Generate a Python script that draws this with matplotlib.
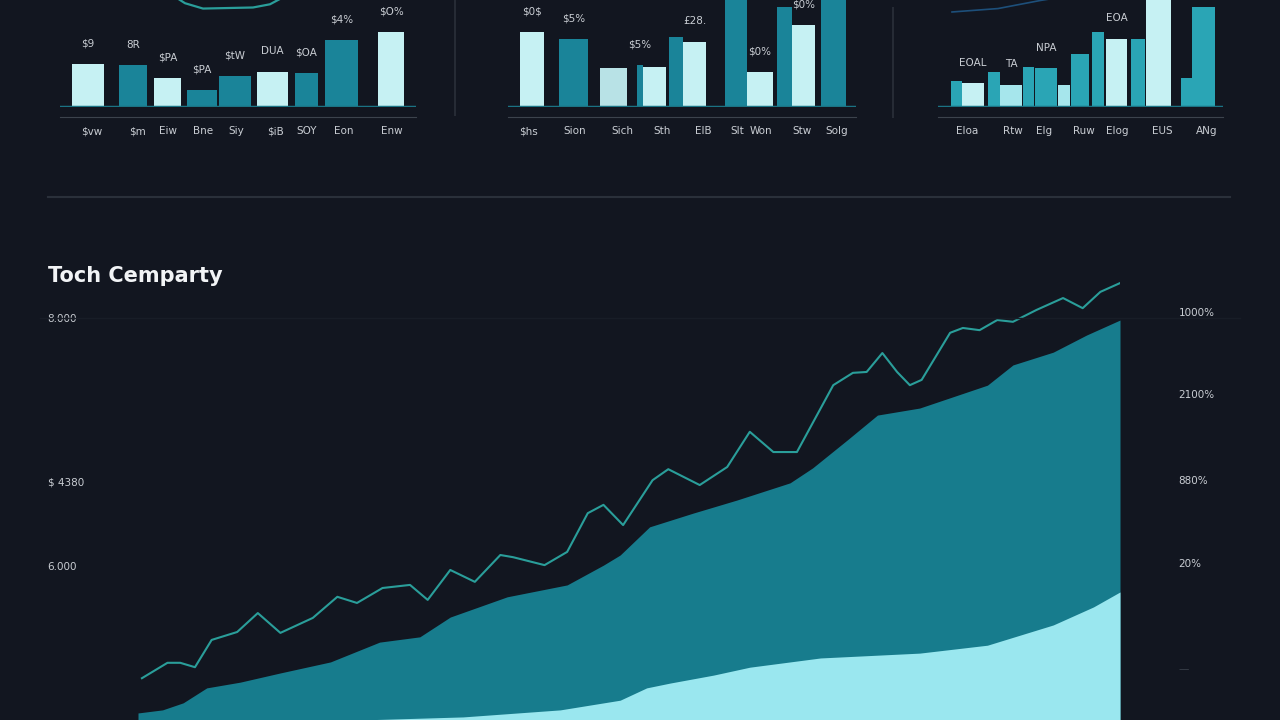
import matplotlib.pyplot as plt
from matplotlib.lines import Line2D

plt.rcParams["text.parse_math"] = False

BG = "#121620"
TEAL = "#1a8499"
TEAL2 = "#2aa5b5"
LIGHT = "#c6f1f3"
LIGHT2 = "#a6e6ec"
TXT = "#c9cdd3"

# ---- top panel data (bar heights, 0..100) ----
p1_values = [40, 39, 27, 16, 29, 33, 32, 63, 70]
p1_labels = ["$9", "8R", "$PA", "$PA", "$tW", "DUA", "$OA", "$4%", "$O%"]
p1_ticks = ["$vw", "$m", "Eiw", "Bne", "Siy", "$iB", "SOY", "Eon", "Enw"]

p2_values = [70, 64, 36, 39, 37, 65, 61, 105, 33, 93, 77, 105]
p2_labels = ["$0$", "$5%", "", "$5%", "", "", "£28.", "", "$0%", "", "$0%", ""]
p2_ticks = ["$hs", "Sion", "Sich", "Sth", "EIB", "SIt", "Won", "Stw", "Solg"]

p3_values = [24, 22, 33, 21, 37, 36, 21, 50, 70, 64, 64, 105, 27, 93]
p3_labels = ["", "EOAL", "", "TA", "", "NPA", "", "", "", "EOA", "", "", "", ""]
p3_ticks = ["Eloa", "Rtw", "Elg", "Ruw", "Elog", "EUS", "ANg"]

# ---- main chart data ----
line_x = [0.4, 3.0, 4.3, 5.8, 7.5, 10.1, 12.2, 14.5, 17.8, 20.3, 22.3, 24.9, 27.7,
          29.5, 31.8, 34.3, 36.9, 38.2, 41.4, 43.7, 45.8, 47.4, 49.4, 52.4, 54.0,
          57.2, 60.0, 62.3, 64.7, 67.1, 70.8, 72.8, 74.2, 75.8, 77.3, 78.6, 79.8,
          82.7, 84.0, 85.7, 87.5, 89.1, 91.5, 94.2, 96.2, 98.0, 100.0]
line_y = [9.5, 13.0, 13.0, 12.0, 18.2, 20.0, 24.3, 19.8, 23.2, 28.0, 26.6, 30.0, 30.7,
          27.3, 34.1, 31.4, 37.5, 37.0, 35.2, 38.2, 47.0, 48.9, 44.3, 54.5, 57.0,
          53.4, 57.5, 65.5, 60.9, 60.9, 76.1, 78.9, 79.1, 83.4, 79.1, 76.1, 77.3,
          88.0, 89.1, 88.6, 90.9, 90.5, 93.2, 95.9, 93.6, 97.3, 99.3]

mid_x = [0, 2.5, 4.6, 7.0, 10.4, 14.5, 19.6, 24.6, 28.7, 31.8, 37.6, 43.7, 47.4,
         49.1, 52.1, 56.5, 61.0, 66.4, 68.7, 72.2, 75.3, 79.6, 86.5, 89.1, 93.2,
         96.6, 100]
mid_y = [1.6, 2.3, 3.9, 7.3, 8.6, 10.7, 13.2, 17.7, 18.9, 23.4, 28.0, 30.7, 35.2,
         37.5, 43.9, 47.0, 50.0, 53.9, 57.3, 63.6, 69.3, 70.9, 76.1, 80.7, 83.6,
         87.5, 90.9]

low_x = [0, 33.1, 43.0, 49.1, 51.8, 54.2, 58.6, 62.3, 69.5, 79.6, 86.5, 93.2, 97.3, 100]
low_y = [-1.5, 0.7, 2.3, 4.5, 7.3, 8.4, 10.2, 12.0, 14.1, 15.2, 17.0, 21.6, 25.7, 29.1]

left_ticks = [91.4, 54.1, 35.0]
left_labels = ["8.000", "$ 4380", "6.000"]
right_ticks = [92.7, 74.1, 54.5, 35.7, 11.8]
right_labels = ["1000%", "2100%", "880%", "20%", "—"]

# ---- layout (pixels) ----
p1_pos = [(12, 32), (59, 28), (94, 27), (127, 30), (159, 32), (197, 31), (235, 23), (265, 33), (318, 26)]
p1_col = [LIGHT, TEAL, LIGHT, TEAL, TEAL, LIGHT, TEAL, TEAL, LIGHT]
p1_tick_pos = [32, 77, 108, 143, 176, 216, 247, 284, 332]

p2_pos = [(12, 24), (51, 29), (92, 27), (129, 6), (135, 23), (161, 14), (175, 23),
          (217, 22), (239, 26), (269, 15), (284, 23), (313, 25)]
p2_col = [LIGHT, TEAL, "#b8e2e6", TEAL, LIGHT, TEAL, LIGHT, TEAL, LIGHT, TEAL, LIGHT, TEAL]
p2_tick_pos = [21, 67, 114, 154, 195, 229, 253, 294, 329]

p3_pos = [(13, 11), (24, 22), (50, 12), (62, 22), (85, 11), (97, 22), (120, 12), (133, 18),
          (154, 12), (168, 21), (193, 14), (208, 25), (243, 11), (254, 23)]
p3_col = [TEAL2, LIGHT, TEAL2, LIGHT2, TEAL2, TEAL2, LIGHT2, TEAL2, TEAL2, LIGHT, TEAL2, LIGHT, TEAL2, TEAL2]
p3_tick_pos = [29, 75, 106, 146, 179, 224, 269]

W, H = 1280, 720
fig = plt.figure(figsize=(12.8, 7.2), dpi=100, facecolor=BG)


def panel(x0, width, values, labels, ticks, pos, cols, tick_pos):
    ax = fig.add_axes([x0 / W, (H - 107) / H, width / W, 107 / H])
    ax.set_facecolor("none")
    for v, lab, (left, w), c in zip(values, labels, pos, cols):
        ax.bar(left, v, width=w, align="edge", color=c, edgecolor="none")
        if lab:
            ax.annotate(lab, (left + w / 2, v), xytext=(0, 11), textcoords="offset points",
                        ha="center", va="bottom", fontsize=7.5, color=TXT)
    ax.axhline(0, color="#1b7384", lw=2.5)
    ax.set_xlim(0, width)
    ax.set_ylim(0, 100)
    ax.tick_params(length=0, pad=7, labelsize=7.5, labelcolor=TXT)
    ax.set_xticks(tick_pos)
    ax.set_xticklabels(ticks)
    ax.set_yticks([])
    for s in ["top", "left", "right"]:
        ax.spines[s].set_visible(False)
    ax.spines["bottom"].set_position(("outward", 7))
    ax.spines["bottom"].set_color("#3c434d")
    return ax


ax1 = panel(60, 356, p1_values, p1_labels, p1_ticks, p1_pos, p1_col, p1_tick_pos)
ax1.plot([110, 125, 143, 193, 210, 222], [106, 97, 92, 93, 96, 102], color="#2a9e9a", lw=1.6)
ax2 = panel(508, 348, p2_values, p2_labels, p2_ticks, p2_pos, p2_col, p2_tick_pos)
ax3 = panel(938, 285, p3_values, p3_labels, p3_ticks, p3_pos, p3_col, p3_tick_pos)
ax3.plot([14, 60, 102, 112], [88.8, 92, 99.5, 101], color="#1d4f7a", lw=1.2)

# dividers
for x, y0, y1 in [(455, 0, 115), (893, 8, 117)]:
    fig.add_artist(Line2D([x / W, x / W], [1 - y0 / H, 1 - y1 / H], color="#262b35", lw=1.5))
fig.add_artist(Line2D([48 / W, 1230 / W], [1 - 197 / H, 1 - 197 / H], color="#2a303a", lw=1.5))
fig.add_artist(Line2D([40 / W, 1240 / W], [1 - 318 / H, 1 - 318 / H], color="#181d27", lw=1))

fig.text(48 / W, 1 - 276 / H, "Toch Cemparty", fontsize=15, fontweight="bold",
         color="#f2f4f6", va="center", ha="left")

# main area chart
ax = fig.add_axes([138 / W, 0, 982 / W, 440 / H])
ax.set_facecolor("none")
ax.fill_between(mid_x, -5, mid_y, color="#177c8d", lw=0)
ax.fill_between(low_x, -5, low_y, color="#9ae7ef", lw=0)
ax.plot(line_x, line_y, color="#2a9e9a", lw=1.5, solid_joinstyle="round")
ax.set_xlim(0, 100)
ax.set_ylim(0, 100)
ax.set_xticks([])
ax.tick_params(length=0, pad=65, labelsize=7.5, labelcolor=TXT)
ax.set_yticks(left_ticks)
ax.set_yticklabels(left_labels, ha="left")
for s in ax.spines.values():
    s.set_visible(False)

axr = ax.twinx()
axr.set_ylim(0, 100)
axr.tick_params(length=0, pad=42, labelsize=7.5, labelcolor=TXT)
axr.set_yticks(right_ticks)
axr.set_yticklabels(right_labels)
axr.get_yticklabels()[-1].set_color("#3a404a")
for s in axr.spines.values():
    s.set_visible(False)

fig.savefig("out.png", dpi=100, facecolor=BG)
